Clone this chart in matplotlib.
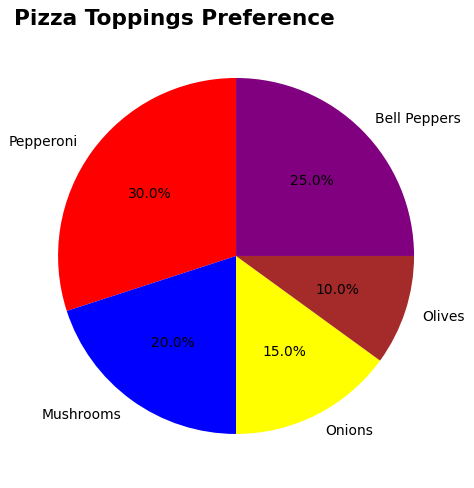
import matplotlib
matplotlib.use("Agg")
import matplotlib.pyplot as plt

toppings = ['Pepperoni', 'Mushrooms', 'Onions', 'Olives', 'Bell Peppers']
shares = [30, 20, 15, 10, 25]
colors = ['red', 'blue', 'yellow', 'brown', 'purple']

fig = plt.figure(figsize=(4.74, 4.89), dpi=100)
ax = fig.add_axes([0.0285, 0.0195, 0.939, 0.91])

ax.pie(shares, labels=toppings, colors=colors, autopct='%1.1f%%', startangle=90,
       textprops={'fontsize': 10})
ax.set_aspect('equal')

fig.text(14 / 474, 1 - 19 / 489, 'Pizza Toppings Preference', fontsize=15.6,
         fontweight='bold', ha='left', va='center')

fig.savefig('out.png', dpi=100)
